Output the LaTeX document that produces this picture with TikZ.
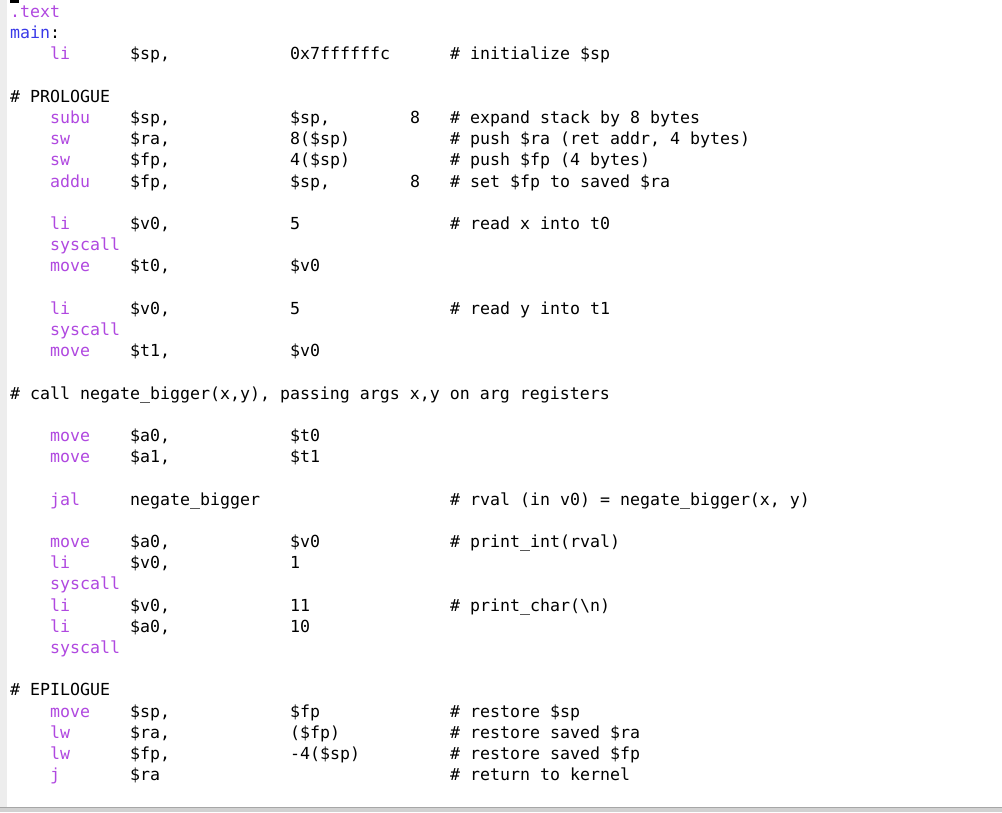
\documentclass[tikz,border=0pt]{standalone}
\usepackage{fontspec}
\setmonofont{DejaVu Sans Mono}
\definecolor{kw}{HTML}{B048E0}
\definecolor{lbl}{HTML}{3A3AE8}
\newcommand\cd[4]{\node[code,text=#4] at ({#2*10+10},{812-12-#1*21.2-5.5}) {#3};}
\begin{document}
\begin{tikzpicture}[x=1pt,y=1pt,code/.style={anchor=base west,inner sep=0pt,font=\ttfamily\fontsize{16.6}{20}\selectfont}]
\useasboundingbox (0,0) rectangle (1002,812);
\fill[white] (0,0) rectangle (1002,812);
\fill[black!7] (0,0) rectangle (7,812);
\fill[black] (10,809) rectangle (19,812);
\fill[black!18] (0,0) rectangle (1002,5);
\draw[black!35] (0,5) -- (1002,5);
\cd{0}{0}{.text}{kw}
\cd{1}{0}{main}{lbl}\cd{1}{4}{:}{black}
\cd{2}{4}{li}{kw}\cd{2}{12}{\$sp,}{black}\cd{2}{28}{0x7ffffffc}{black}\cd{2}{44}{\# initialize \$sp}{black}
\cd{4}{0}{\# PROLOGUE}{black}
\cd{5}{4}{subu}{kw}\cd{5}{12}{\$sp,}{black}\cd{5}{28}{\$sp,}{black}\cd{5}{40}{8}{black}\cd{5}{44}{\# expand stack by 8 bytes}{black}
\cd{6}{4}{sw}{kw}\cd{6}{12}{\$ra,}{black}\cd{6}{28}{8(\$sp)}{black}\cd{6}{44}{\# push \$ra (ret addr, 4 bytes)}{black}
\cd{7}{4}{sw}{kw}\cd{7}{12}{\$fp,}{black}\cd{7}{28}{4(\$sp)}{black}\cd{7}{44}{\# push \$fp (4 bytes)}{black}
\cd{8}{4}{addu}{kw}\cd{8}{12}{\$fp,}{black}\cd{8}{28}{\$sp,}{black}\cd{8}{40}{8}{black}\cd{8}{44}{\# set \$fp to saved \$ra}{black}
\cd{10}{4}{li}{kw}\cd{10}{12}{\$v0,}{black}\cd{10}{28}{5}{black}\cd{10}{44}{\# read x into t0}{black}
\cd{11}{4}{syscall}{kw}
\cd{12}{4}{move}{kw}\cd{12}{12}{\$t0,}{black}\cd{12}{28}{\$v0}{black}
\cd{14}{4}{li}{kw}\cd{14}{12}{\$v0,}{black}\cd{14}{28}{5}{black}\cd{14}{44}{\# read y into t1}{black}
\cd{15}{4}{syscall}{kw}
\cd{16}{4}{move}{kw}\cd{16}{12}{\$t1,}{black}\cd{16}{28}{\$v0}{black}
\cd{18}{0}{\# call negate\_bigger(x,y), passing args x,y on arg registers}{black}
\cd{20}{4}{move}{kw}\cd{20}{12}{\$a0,}{black}\cd{20}{28}{\$t0}{black}
\cd{21}{4}{move}{kw}\cd{21}{12}{\$a1,}{black}\cd{21}{28}{\$t1}{black}
\cd{23}{4}{jal}{kw}\cd{23}{12}{negate\_bigger}{black}\cd{23}{44}{\# rval (in v0) = negate\_bigger(x, y)}{black}
\cd{25}{4}{move}{kw}\cd{25}{12}{\$a0,}{black}\cd{25}{28}{\$v0}{black}\cd{25}{44}{\# print\_int(rval)}{black}
\cd{26}{4}{li}{kw}\cd{26}{12}{\$v0,}{black}\cd{26}{28}{1}{black}
\cd{27}{4}{syscall}{kw}
\cd{28}{4}{li}{kw}\cd{28}{12}{\$v0,}{black}\cd{28}{28}{11}{black}\cd{28}{44}{\# print\_char(\textbackslash n)}{black}
\cd{29}{4}{li}{kw}\cd{29}{12}{\$a0,}{black}\cd{29}{28}{10}{black}
\cd{30}{4}{syscall}{kw}
\cd{32}{0}{\# EPILOGUE}{black}
\cd{33}{4}{move}{kw}\cd{33}{12}{\$sp,}{black}\cd{33}{28}{\$fp}{black}\cd{33}{44}{\# restore \$sp}{black}
\cd{34}{4}{lw}{kw}\cd{34}{12}{\$ra,}{black}\cd{34}{28}{(\$fp)}{black}\cd{34}{44}{\# restore saved \$ra}{black}
\cd{35}{4}{lw}{kw}\cd{35}{12}{\$fp,}{black}\cd{35}{28}{-4(\$sp)}{black}\cd{35}{44}{\# restore saved \$fp}{black}
\cd{36}{4}{j}{kw}\cd{36}{12}{\$ra}{black}\cd{36}{44}{\# return to kernel}{black}
\end{tikzpicture}
\end{document}
